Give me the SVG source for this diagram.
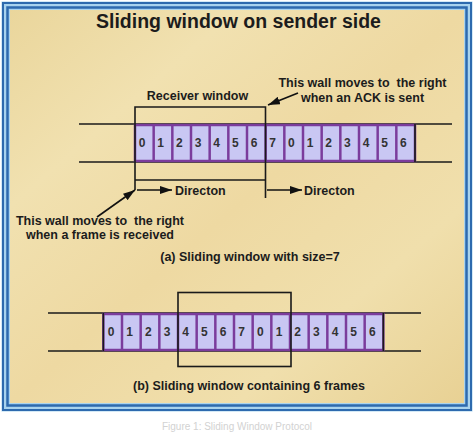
<svg xmlns="http://www.w3.org/2000/svg" width="474" height="434" viewBox="0 0 474 434">
<defs>
<linearGradient id="bg" x1="0" y1="0" x2="1" y2="1">
<stop offset="0" stop-color="#ead69c"/>
<stop offset="0.25" stop-color="#f1e1b0"/>
<stop offset="0.5" stop-color="#eed9a2"/>
<stop offset="0.75" stop-color="#f0dfac"/>
<stop offset="1" stop-color="#e8d194"/>
</linearGradient>
<marker id="ah" markerUnits="userSpaceOnUse" markerWidth="12" markerHeight="8" refX="12" refY="4" orient="auto">
<path d="M0,0 L12,4 L0,8 z" fill="#111"/>
</marker>
</defs>
<style>
text{font-family:"Liberation Sans",Arial,sans-serif;fill:#1c1c1c;font-weight:bold}
.t{font-size:12.5px;white-space:pre}
.c{text-anchor:middle}
.d{font-size:12px;fill:#333;text-anchor:middle}
.ln{stroke:#1a1a1a;stroke-width:1.6;fill:none}
.band{fill:#c9c7f3;stroke:#7b3c9c;stroke-width:2.5}
.div{stroke:#7b3c9c;stroke-width:2.5}
.arr{stroke:#111;stroke-width:1.6;fill:none;marker-end:url(#ah)}
</style>
<rect width="474" height="434" fill="#ffffff"/>
<g id="frame">
<rect x="1.5" y="1.5" width="471" height="410" fill="#a8d3ee"/>
<rect x="3" y="3" width="468" height="407" fill="none" stroke="#2d6aae" stroke-width="2"/>
<rect x="7.5" y="7.5" width="459" height="398" fill="none" stroke="#2d6aae" stroke-width="2.5"/>
<rect x="10" y="10" width="454" height="393" fill="url(#bg)"/>
</g>
<text x="238.5" y="27.5" class="c" style="font-size:19.5px">Sliding window on sender side</text>

<g id="tape-a">
<line class="ln" x1="79" y1="124" x2="452" y2="124"/>
<line class="ln" x1="79" y1="162" x2="452" y2="162"/>
<rect class="band" x="135" y="125" width="280" height="36"/>
<g class="div">
<line x1="153.67" y1="125" x2="153.67" y2="161"/><line x1="172.33" y1="125" x2="172.33" y2="161"/><line x1="191" y1="125" x2="191" y2="161"/><line x1="209.67" y1="125" x2="209.67" y2="161"/><line x1="228.33" y1="125" x2="228.33" y2="161"/><line x1="247" y1="125" x2="247" y2="161"/><line x1="265.67" y1="125" x2="265.67" y2="161"/><line x1="284.33" y1="125" x2="284.33" y2="161"/><line x1="303" y1="125" x2="303" y2="161"/><line x1="321.67" y1="125" x2="321.67" y2="161"/><line x1="340.33" y1="125" x2="340.33" y2="161"/><line x1="359" y1="125" x2="359" y2="161"/><line x1="377.67" y1="125" x2="377.67" y2="161"/><line x1="396.33" y1="125" x2="396.33" y2="161"/>
</g>
<line class="ln" x1="415" y1="124" x2="415" y2="162"/>
<g>
<text class="d" x="142" y="147">0</text><text class="d" x="160.67" y="147">1</text><text class="d" x="179.33" y="147">2</text><text class="d" x="198" y="147">3</text><text class="d" x="216.67" y="147">4</text><text class="d" x="235.33" y="147">5</text><text class="d" x="254" y="147">6</text><text class="d" x="272.67" y="147">7</text><text class="d" x="291.33" y="147">0</text><text class="d" x="310" y="147">1</text><text class="d" x="328.67" y="147">2</text><text class="d" x="347.33" y="147">3</text><text class="d" x="366" y="147">4</text><text class="d" x="384.67" y="147">5</text><text class="d" x="403.33" y="147">6</text>
</g>
</g>

<g id="receiver-window">
<path class="ln" d="M135,190 V107 H265.5 V198"/>
<line class="ln" x1="135" y1="180" x2="265.5" y2="180"/>
<text class="t c" x="197.5" y="100">Receiver window</text>
</g>

<g id="connectors">
<line class="arr" x1="137" y1="190" x2="172" y2="190"/>
<line class="arr" x1="267" y1="190" x2="302" y2="190"/>
<line class="arr" x1="298" y1="93" x2="268" y2="105"/>
<line class="arr" x1="97" y1="217" x2="135" y2="190"/>
</g>

<g id="labels-a">
<text class="t" x="175" y="194.5">Directon</text>
<text class="t" x="304" y="194.5">Directon</text>
<text class="t c" x="362.5" y="87">This wall moves to  the right</text>
<text class="t c" x="362.5" y="101.5">when an ACK is sent</text>
<text class="t c" x="100" y="225">This wall moves to  the right</text>
<text class="t c" x="100" y="239">when a frame is received</text>
<text class="t c" x="250" y="260.5">(a) Sliding window with size=7</text>
</g>

<g id="tape-b">
<line class="ln" x1="48" y1="313" x2="421" y2="313"/>
<line class="ln" x1="48" y1="351" x2="421" y2="351"/>
<rect class="band" x="103.33" y="314" width="280" height="36"/>
<g class="div">
<line x1="122" y1="314" x2="122" y2="350"/><line x1="140.67" y1="314" x2="140.67" y2="350"/><line x1="159.33" y1="314" x2="159.33" y2="350"/><line x1="178" y1="314" x2="178" y2="350"/><line x1="196.67" y1="314" x2="196.67" y2="350"/><line x1="215.33" y1="314" x2="215.33" y2="350"/><line x1="234" y1="314" x2="234" y2="350"/><line x1="252.67" y1="314" x2="252.67" y2="350"/><line x1="271.33" y1="314" x2="271.33" y2="350"/><line x1="290" y1="314" x2="290" y2="350"/><line x1="308.67" y1="314" x2="308.67" y2="350"/><line x1="327.33" y1="314" x2="327.33" y2="350"/><line x1="346" y1="314" x2="346" y2="350"/><line x1="364.67" y1="314" x2="364.67" y2="350"/>
</g>
<line class="ln" x1="103.33" y1="313" x2="103.33" y2="351"/>
<line class="ln" x1="383.33" y1="313" x2="383.33" y2="351"/>
<g>
<text class="d" x="111" y="336">0</text><text class="d" x="129.67" y="336">1</text><text class="d" x="148.33" y="336">2</text><text class="d" x="167" y="336">3</text><text class="d" x="185.67" y="336">4</text><text class="d" x="204.33" y="336">5</text><text class="d" x="223" y="336">6</text><text class="d" x="241.67" y="336">7</text><text class="d" x="260.33" y="336">0</text><text class="d" x="279" y="336">1</text><text class="d" x="297.67" y="336">2</text><text class="d" x="316.33" y="336">3</text><text class="d" x="335" y="336">4</text><text class="d" x="353.67" y="336">5</text><text class="d" x="372.33" y="336">6</text>
</g>
</g>

<g id="window-b">
<rect class="ln" x="178" y="292.5" width="113" height="74"/>
</g>
<text class="t c" x="249" y="390">(b) Sliding window containing 6 frames</text>
<text x="237" y="430" class="c" style="font-size:10px;font-weight:normal;fill:#d2d2d2">Figure 1: Sliding Window Protocol</text>
</svg>
